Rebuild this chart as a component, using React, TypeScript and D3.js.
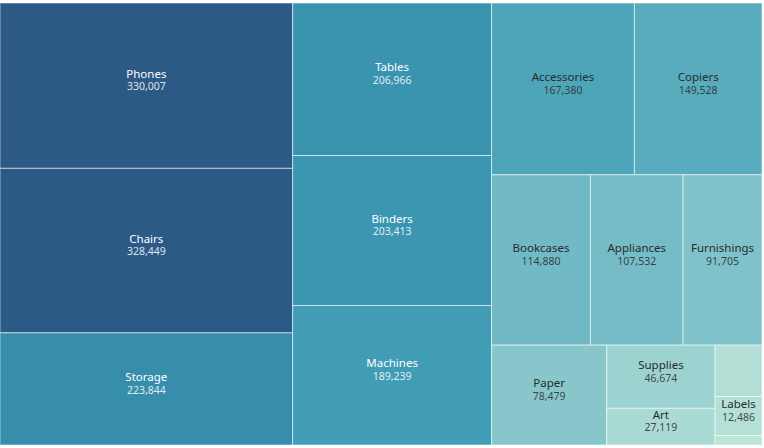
import React, { useEffect, useRef } from 'react';
import * as d3 from 'd3';

// Sub-category sales, grouped the way the treemap is laid out
const column1 = ['Phones', 'Chairs', 'Storage'];
const column1Values = [330007, 328449, 223844];
const column2 = ['Tables', 'Binders', 'Machines'];
const column2Values = [206966, 203413, 189239];
const row1 = ['Accessories', 'Copiers'];
const row1Values = [167380, 149528];
const row2 = ['Bookcases', 'Appliances', 'Furnishings'];
const row2Values = [114880, 107532, 91705];
const row3a = ['Paper'];
const row3aValues = [78479];
const row3b = ['Supplies', 'Art'];
const row3bValues = [46674, 27119];
const row3c = ['Envelopes', 'Labels', 'Fasteners'];
const row3cValues = [16476, 12486, 3024];

const colorStops = ['#bce4d8', '#a1d5d2', '#89c8cc', '#72bac6', '#59acbe', '#419eb6', '#358ead', '#347ea1', '#316f96', '#2c5985'];

const leaves = (names: string[], vals: number[]) => names.map((n, i) => ({ name: n, value: vals[i] }));

export default function App() {
  const ref = useRef<SVGSVGElement>(null);

  useEffect(() => {
    if (!ref.current) return;
    const width = 764;
    const height = 448;
    const svg = d3.select(ref.current);
    svg.selectAll('*').remove();
    svg.attr('width', width).attr('height', height);

    const data = {
      name: 'root',
      children: [
        { name: 'c1', children: leaves(column1, column1Values) },
        { name: 'c2', children: leaves(column2, column2Values) },
        {
          name: 'c3',
          children: [
            { name: 'r1', children: leaves(row1, row1Values) },
            { name: 'r2', children: leaves(row2, row2Values) },
            {
              name: 'r3',
              children: [
                ...leaves(row3a, row3aValues),
                { name: 'r3b', children: leaves(row3b, row3bValues) },
                { name: 'r3c', children: leaves(row3c, row3cValues) },
              ],
            },
          ],
        },
      ],
    };

    const root = d3.hierarchy<any>(data).sum((d: any) => (d.children ? 0 : d.value));
    d3.treemap<any>().tile(d3.treemapSliceDice).size([762, 442])(root);

    const all = root.leaves().map(d => d.data.value as number);
    const color = d3.scaleSequential(d3.interpolateRgbBasis(colorStops))
      .domain([d3.min(all)!, d3.max(all)!]);

    const g = svg.append('g').attr('transform', 'translate(0,3)');

    const cell = g.selectAll('g')
      .data(root.leaves() as any[])
      .enter()
      .append('g');

    cell.append('rect')
      .attr('x', d => d.x0)
      .attr('y', d => d.y0)
      .attr('width', d => d.x1 - d.x0)
      .attr('height', d => d.y1 - d.y0)
      .attr('fill', d => color(d.data.value))
      .attr('stroke', 'rgba(255,255,255,0.55)')
      .attr('stroke-width', 1);

    const fmt = d3.format(',');
    const labelled = cell.filter(d => (d.y1 - d.y0) > 30 && (d.x1 - d.x0) > 30);
    const txtColor = (d: any) => d.data.value > 180000 ? '#ffffff' : '#2b2b2b';

    labelled.append('text')
      .attr('class', 'name')
      .attr('x', d => (d.x0 + d.x1) / 2)
      .attr('y', d => (d.y0 + d.y1) / 2 - 11)
      .attr('dominant-baseline', 'middle')
      .attr('text-anchor', 'middle')
      .attr('font-family', 'Noto Sans, sans-serif')
      .attr('font-size', 11.5)
      .attr('fill', txtColor)
      .text(d => d.data.name);

    labelled.append('text')
      .attr('x', d => (d.x0 + d.x1) / 2)
      .attr('y', d => (d.y0 + d.y1) / 2 + 2)
      .attr('dominant-baseline', 'middle')
      .attr('text-anchor', 'middle')
      .attr('font-family', 'Noto Sans, sans-serif')
      .attr('font-size', 10.5)
      .attr('fill', txtColor)
      .attr('fill-opacity', 0.85)
      .text(d => fmt(d.data.value));

    // drop labels that do not fit inside their cell
    labelled.each(function (d: any) {
      const t = d3.select(this).select<SVGTextElement>('text.name').node();
      if (t && t.getComputedTextLength() > d.x1 - d.x0 - 4) {
        d3.select(this).selectAll('text').remove();
      }
    });
  }, []);

  return <svg ref={ref} style={{ position: 'absolute', left: 0, top: 0 }} />;
}
